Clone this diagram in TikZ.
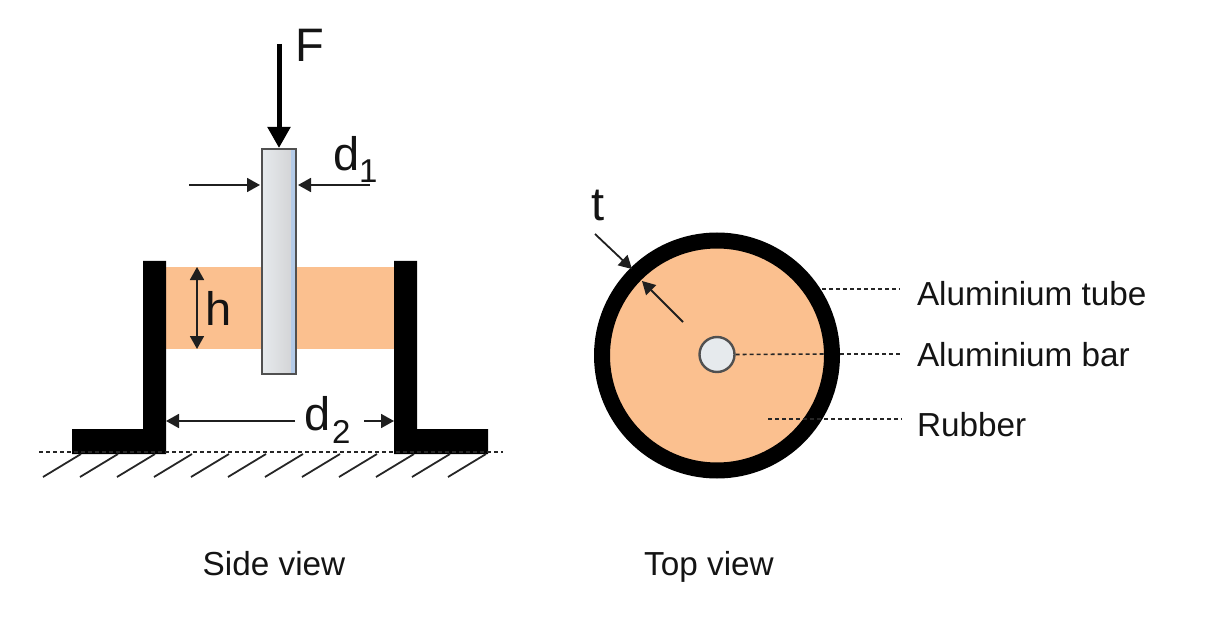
\documentclass[tikz,border=0pt]{standalone}
\usepackage{fontspec}
\setmainfont{Liberation Sans}
\usetikzlibrary{arrows.meta}
\definecolor{rubber}{HTML}{FBC08F}
\definecolor{barlight}{HTML}{E6EAED}
\definecolor{bardark}{HTML}{D4D5D7}
\definecolor{barblue}{HTML}{B4CBE8}
\definecolor{edgegrey}{HTML}{505050}
\tikzset{
  lbl/.style={inner sep=0pt,outer sep=0pt,text=black!92},
  biglbl/.style={lbl,font=\fontsize{47}{47}\selectfont},
  smalllbl/.style={lbl,font=\fontsize{33.3}{33.3}\selectfont,anchor=base west},
  caplbl/.style={lbl,font=\fontsize{33.3}{33.3}\selectfont,anchor=base},
  dim/.style={line width=1.8pt,black!88,-{Triangle[length=13pt,width=14pt]}},
  dimboth/.style={line width=1.8pt,black!88,{Triangle[length=13pt,width=14pt]}-{Triangle[length=13pt,width=14pt]}},
  leader/.style={line width=1.6pt,black!85,dash pattern=on 4pt off 3pt},
  hatchline/.style={line width=1.8pt,black!85},
  wall/.style={fill=black,draw=none},
}
\begin{document}
\begin{tikzpicture}[x=1pt,y=-1pt]
\useasboundingbox (0,0) rectangle (1228,620);
% ---- Side view
\fill[rubber] (166,267) rectangle (394,349);
\fill[left color=barlight,right color=bardark] (262,149) rectangle (291,374);
\fill[barblue] (291,149) rectangle (296,374);
\draw[edgegrey,line width=2.4pt] (262,149) rectangle (296,374);
\coordinate (bartop) at (279,148);
\coordinate (barleft) at (260,185);
\coordinate (barright) at (298,185);
\coordinate (Ftail) at (279,44);
\draw[line width=5pt,black,-{Triangle[length=21pt,width=22pt]}] (Ftail) -- (bartop);
\coordinate (d1a) at (189,185);
\coordinate (d1b) at (370,185);
\draw[dim] (d1a) -- (barleft);
\draw[dim] (d1b) -- (barright);
% walls
\fill[wall] (143,261) -- (166,261) -- (166,454) -- (72,454) -- (72,429) -- (143,429) -- cycle;
\fill[wall] (394,261) -- (417,261) -- (417,429) -- (488,429) -- (488,454) -- (394,454) -- cycle;
% ground
\coordinate (g0) at (39,452);
\coordinate (g1) at (503,452);
\draw[leader] (g0) -- (g1);
\foreach \x in {43,80,117,154,191,228,265,302,339,376,412,448}
  \draw[hatchline] (\x,477) -- ++(38,-23);
% h
\coordinate (ha) at (197,267);
\coordinate (hb) at (197,349);
\draw[dimboth] (ha) -- (hb);
% d2
\coordinate (wallL) at (166,421);
\coordinate (wallR) at (394,421);
\node[biglbl,anchor=base west] (dtwo) at (304,430) {d};
\coordinate (d2a) at (295,421);
\coordinate (d2b) at (364,421);
\draw[dim] (d2a) -- (wallL);
\draw[dim] (d2b) -- (wallR);
\node[biglbl,anchor=base west] (F) at (295,62) {F};
\node[biglbl,anchor=base west] (done) at (333,171) {d};
\node[lbl,font=\fontsize{33}{33}\selectfont,anchor=base west] (dones) at (359,183) {1};
\node[biglbl,anchor=base west] (h) at (205,325) {h};
\node[lbl,font=\fontsize{33}{33}\selectfont,anchor=base west] (dtwos) at (332,443) {2};
\node[caplbl] (side) at (274,575) {Side view};
% ---- Top view
\node[circle,fill=rubber,draw=black,line width=16pt,minimum size=230pt,inner sep=0pt,outer sep=0pt] (tube) at (717,355.5) {};
\node[circle,fill=barlight,draw=edgegrey,line width=2.4pt,minimum size=35pt,inner sep=0pt] (bar) at (717,354.5) {};
\coordinate (ta) at (595,234);
\coordinate (tb) at (632,269);
\coordinate (tc) at (683,322);
\coordinate (td) at (642,281);
\draw[dim] (ta) -- (tb);
\draw[dim] (tc) -- (td);
\node[biglbl,anchor=base west] (t) at (591,221) {t};
\node[smalllbl] (ltube) at (917,305) {Aluminium tube};
\node[smalllbl] (lbar) at (917,366) {Aluminium bar};
\node[smalllbl] (lrub) at (917,436) {Rubber};
\coordinate (l1) at (822,289);
\coordinate (l1e) at (900,289);
\coordinate (l3) at (768,419);
\coordinate (l3e) at (902,419);
\draw[leader] (l1) -- (l1e);
\draw[leader] (bar.east) -- (826,354);
\draw[leader] (840,354) -- (902,354);
\draw[leader] (l3) -- (l3e);
\node[caplbl] (top) at (709,575) {Top view};
\end{tikzpicture}
\end{document}
